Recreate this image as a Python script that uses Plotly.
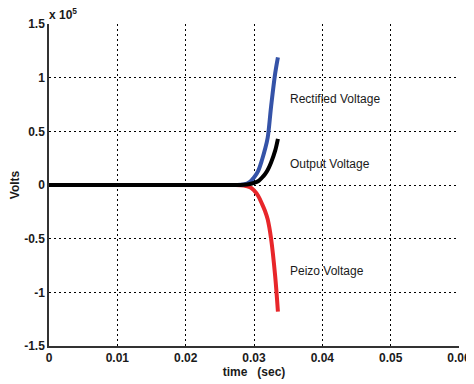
import plotly.graph_objects as go

time_s = [0, 0.01, 0.02, 0.027, 0.0285, 0.0294, 0.0300, 0.0306, 0.0312, 0.0316, 0.0320, 0.0325, 0.0331, 0.0335]
rectified = [0, 0, 0, 0, 500, 3000, 7000, 13000, 24000, 33000, 44000, 73000, 104000, 119000]
output = [0, 0, 0, 0, 300, 1000, 2000, 3500, 7000, 10000, 14000, 21000, 32000, 43000]
peizo = [0, 0, 0, 0, -500, -2000, -5000, -10000, -18000, -24000, -32000, -50000, -85000, -118000]

x_ticks = [0, 0.01, 0.02, 0.03, 0.04, 0.05, 0.06]
x_labels = ["0", "0.01", "0.02", "0.03", "0.04", "0.05", "0.06"]
y_ticks = [-150000, -100000, -50000, 0, 50000, 100000, 150000]
y_labels = ["-1.5", "-1", "-0.5", "0", "0.5", "1", "1.5"]

font = "Liberation Sans, Arial, sans-serif"
bold_font = dict(size=12, color="#1a1a1a", family=font, weight="bold")

fig = go.Figure()
fig.add_trace(go.Scatter(x=time_s, y=peizo, mode="lines", line=dict(color="#e8262a", width=4, shape="spline")))
fig.add_trace(go.Scatter(x=time_s, y=rectified, mode="lines", line=dict(color="#3553a8", width=4, shape="spline")))
fig.add_trace(go.Scatter(x=time_s, y=output, mode="lines", line=dict(color="#000000", width=4, shape="spline")))

labels = [("Rectified Voltage", 80000), ("Output Voltage", 19600), ("Peizo Voltage", -80000)]
for txt, yv in labels:
    fig.add_annotation(x=0.035, y=yv, text=txt, showarrow=False, xanchor="left", yanchor="middle",
                       font=dict(size=12, color="#1a1a1a", family=font))

fig.add_annotation(x=0, y=1, xref="paper", yref="paper", text="x 10<sup>5</sup>", showarrow=False,
                   xanchor="left", yanchor="bottom", xshift=-2, yshift=0, font=bold_font)

axis_common = dict(showgrid=True, gridcolor="#000000", griddash="2px,3px", gridwidth=1, zeroline=False,
                   showline=True, linecolor="#333333", linewidth=1.5, ticks="", automargin=False,
                   tickfont=bold_font)

fig.update_xaxes(range=[0, 0.06], tickvals=x_ticks, ticktext=x_labels,
                 title=dict(text="time &nbsp; (sec)", font=bold_font, standoff=2),
                 **axis_common)
fig.update_yaxes(range=[-150000, 150000], tickvals=y_ticks, ticktext=y_labels,
                 title=dict(text="Volts", font=bold_font, standoff=8),
                 **axis_common)

# page body has an 8px default margin, so the figure is sized to fit the 474x384 window
fig.update_layout(width=466, height=376, margin=dict(l=41, r=15, t=16, b=38),
                  plot_bgcolor="white", paper_bgcolor="white", showlegend=False)

fig.write_html("out.html")
